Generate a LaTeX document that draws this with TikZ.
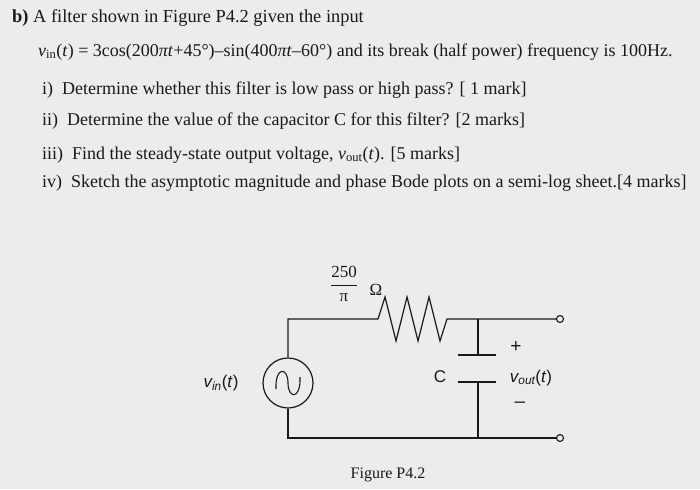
\documentclass[tikz,border=0pt]{standalone}
\usepackage{fontspec}
\setmainfont{Liberation Serif}
\newfontfamily\arialf{Liberation Sans}
\usetikzlibrary{calc}
\definecolor{bg}{RGB}{236,236,234}
\definecolor{ink}{RGB}{25,25,25}
\begin{document}
\begin{tikzpicture}[x=1pt,y=-1pt,
  txt/.style={anchor=west,inner sep=0,font=\fontsize{18}{20}\selectfont,text=ink},
  wire/.style={draw=ink,line width=1.2pt},
  term/.style={circle,draw=ink,line width=1.1pt,fill=bg,inner sep=0,minimum size=7pt},
  lab/.style={inner sep=0,font=\arialf\fontsize{17}{18}\selectfont,text=ink}]
\fill[bg] (0,0) rectangle (700,489);
\useasboundingbox (0,0) rectangle (700,489);
\node[txt,font=\fontsize{18.4}{20}\selectfont] (t0) at (12,18) {\textbf{b)} A filter shown in Figure P4.2 given the input};
\node[txt] (t1) at (38,52) {\textit{v}\textsubscript{in}(\textit{t}) = 3cos(200\textit{πt}+45°)–sin(400\textit{πt}–60°) and its break (half power) frequency is 100Hz.};
\node[txt] (t2) at (42,90) {i)\enspace Determine whether this filter is low pass or high pass? [ 1 mark]};
\node[txt] (t3) at (42,121) {ii)\enspace Determine the value of the capacitor C for this filter? [2 marks]};
\node[txt] (t4) at (42,155) {iii)\enspace Find the steady-state output voltage, \textit{v}\textsubscript{out}(\textit{t}). [5 marks]};
\node[txt] (t5) at (42,183) {iv)\enspace Sketch the asymptotic magnitude and phase Bode plots on a semi-log sheet.[4 marks]};
% circuit
\coordinate (tl) at (288,319);
\coordinate (bl) at (288,438);
\coordinate (r1) at (378,319);
\coordinate (r2) at (447,319);
\coordinate (ct) at (478,319);
\coordinate (cb) at (478,438);
\node[term] (o1) at (560,319) {};
\node[term] (o2) at (560,438) {};
\node[circle,draw=ink,line width=1.2pt,minimum size=50pt,inner sep=0] (src) at (288,383) {};
\draw[ink,line width=1.1pt] ($(src.center)+(-12,6)$) .. controls ($(src.center)+(-13,-17)$) and ($(src.center)+(0,-16)$) .. (src.center) .. controls ($(src.center)+(0,16)$) and ($(src.center)+(13,17)$) .. ($(src.center)+(12,-6)$);
\draw[wire] (src.north) -- (tl) -- (r1) -- (385,297) -- (396,341) -- (407,297) -- (418,341) -- (429,297) -- (440,341) -- (r2) -- (ct) -- (o1);
\draw[wire] (src.south) -- (bl) -- (cb) -- (o2);
\coordinate (p1) at (478,355);
\coordinate (p2) at (478,382);
\draw[wire] (ct) -- (p1);
\draw[wire] (p2) -- (cb);
\draw[wire] (458,355) -- (496,355);
\draw[wire] (458,382) -- (496,382);
\node[inner sep=0,text=ink,font=\fontsize{17}{18}\selectfont] (rl) at (344,284) {$\displaystyle\frac{\textrm{250}}{\textrm{π}}$};
\node[inner sep=0,text=ink,font=\fontsize{17}{18}\selectfont] (om) at (376,290) {Ω};
\node[lab] (cl) at (440,377) {C};
\node[lab] (vin) at (221,383) {\textit{v\textsubscript{in}}(\textit{t})};
\node[lab] (vout) at (531,378) {\textit{v\textsubscript{out}}(\textit{t})};
\node[lab,font=\arialf\fontsize{19}{20}\selectfont] (pl) at (516,347) {+};
\node[lab,font=\arialf\fontsize{19}{20}\selectfont] (mi) at (520,405) {–};
\node[inner sep=0,text=ink,font=\fontsize{16}{17}\selectfont] (fig) at (388,475) {Figure P4.2};
\end{tikzpicture}
\end{document}
